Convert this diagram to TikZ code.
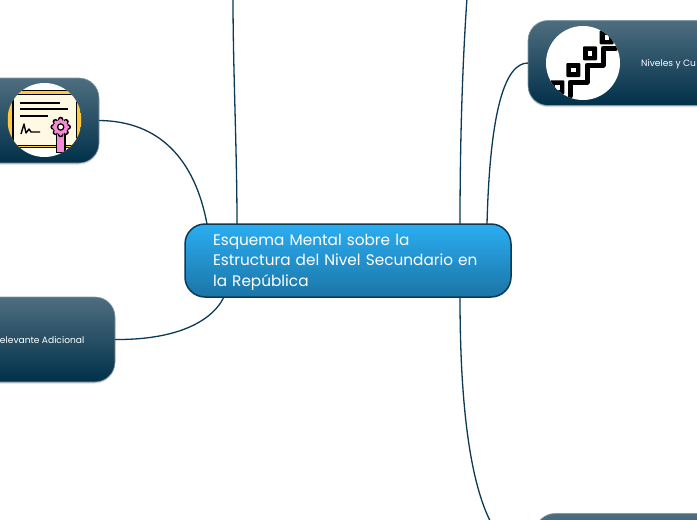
\documentclass[tikz,border=0pt]{standalone}
\usepackage{fontspec}
\setmainfont{Poppins}
\usetikzlibrary{shadows}
\normallineskiplimit=-20pt
\lineskiplimit=-20pt
\definecolor{linkc}{HTML}{0C3A55}
\definecolor{darktop}{HTML}{4E6E7F}
\definecolor{darkbot}{HTML}{01304A}
\definecolor{maintop}{HTML}{2BAEF2}
\definecolor{mainbot}{HTML}{1B74A6}
\definecolor{certy}{HTML}{FFC93C}
\definecolor{certc}{HTML}{FFF8E3}
\definecolor{certp}{HTML}{F78AD8}
\tikzset{
 topicbox/.style={draw=darktop!70!white,line width=0.6pt,rounded corners=20pt,top color=darktop,bottom color=darkbot,minimum height=85pt,text=white,outer sep=0pt,inner sep=0pt,
   drop shadow={shadow xshift=0pt,shadow yshift=-1.5pt,opacity=0.15,fill=black}},
 topictext/.style={text=white,inner sep=0pt,font=\fontsize{9.1}{11}\selectfont},
 mainbox/.style={draw=linkc,line width=1.5pt,rounded corners=20pt,top color=maintop,bottom color=mainbot,minimum width=326pt,minimum height=73pt,text width=270pt,align=left,text=white,outer sep=0pt,inner sep=0pt,
   font=\fontsize{15.3}{20.5}\selectfont},
 linkline/.style={draw=linkc,line width=1.3pt},
 iconink/.style={draw=black,line width=1.7pt},
 stairink/.style={draw=black,line width=5pt,line join=round,line cap=round},
}
\begin{document}
\begin{tikzpicture}[x=1pt,y=-1pt]
\useasboundingbox (0,0) rectangle (697,520);
\clip (0,0) rectangle (697,520);
\fill[white] (0,0) rectangle (697,520);
\coordinate (topa) at (233,-2);
\coordinate (topb) at (467,-2);
\node[mainbox] (central) at (348,260.5) {\rule{0pt}{14.6pt}Esquema Mental sobre la\\Estructura del Nivel Secundario en\\la República};
\node[topicbox,minimum width=160pt] (cert) at (19,120.5) {};
\node[topicbox,minimum width=300pt] (levels) at (678,63) {};
\node[topicbox,minimum width=260pt] (extra) at (-15,339.5) {};
\node[topicbox,minimum width=300pt] (last) at (685,556) {};
\node[topictext,anchor=east] (extratext) at (84.5,340.5) {elevante Adicional};
\node[topictext,anchor=west] (leveltext) at (641,64.5) {Niveles y Cu};
\draw[linkline] (topa) .. controls (233,70) and (237,150) .. ([xshift=-111pt]central.north);
\draw[linkline] (topb) .. controls (462,70) and (460,150) .. ([xshift=112pt]central.north);
\draw[linkline] (cert.east) .. controls (160,121) and (195,160) .. ([xshift=-141pt]central.north);
\draw[linkline] (levels.west) .. controls (505,63) and (490,110) .. ([xshift=139pt]central.north);
\draw[linkline] (extra.east) .. controls (170,340) and (210,325) .. ([xshift=-124pt]central.south);
\draw[linkline] ([xshift=112pt]central.south) .. controls (460,450) and (480,556) .. (last.west);
% certificate icon
\begin{scope}
\clip (44.5,120) circle (37);
\fill[white] (7,83) rectangle (82,157);
\fill[black] (7,90) rectangle (82,148);
\fill[certy] (8,91) rectangle (81,147);
\fill[black] (12,93.5) rectangle (77,146);
\fill[certc] (13.5,95) rectangle (76,144.5);
\draw[iconink] (20,103) -- (60,103);
\draw[iconink] (20,109) -- (68,109);
\draw[iconink] (20,116) -- (48,116);
\draw[black,line width=1.4pt,line join=round] (21,134) -- (24,124) -- (26,133) -- (29,129) -- (31,132) -- (40,132);
\fill[black] (55.5,134) rectangle (65.5,153);
\fill[certp] (57,134) rectangle (64,151.5);
\foreach \a in {0,45,...,315} \fill[black] (60.7,127) ++(\a:7.5) circle (2.8);
\foreach \a in {0,45,...,315} \fill[certp] (60.7,127) ++(\a:7) circle (1.8);
\fill[certp] (60.7,127) circle (7);
\fill[black] (60.7,127) circle (3.8);
\fill[certc] (60.7,127) circle (2.3);
\end{scope}
% stair icon
\begin{scope}
\clip (583,63) circle (37);
\fill[white] (546,26) rectangle (620,100);
\draw[stairink] (616,48) -- (603,48) -- (603,65) -- (587,65) -- (587,82) -- (570,82) -- (570,96);
\foreach \cx/\cy in {606.7/37.3,590/53.3,573.3/70,557.3/87.3} {
  \fill[black,rounded corners=1pt] (\cx-7,\cy-7) rectangle (\cx+7,\cy+7);
  \fill[white] (\cx-2.2,\cy-2.2) rectangle (\cx+2.2,\cy+2.2);
}
\end{scope}
\end{tikzpicture}
\end{document}
